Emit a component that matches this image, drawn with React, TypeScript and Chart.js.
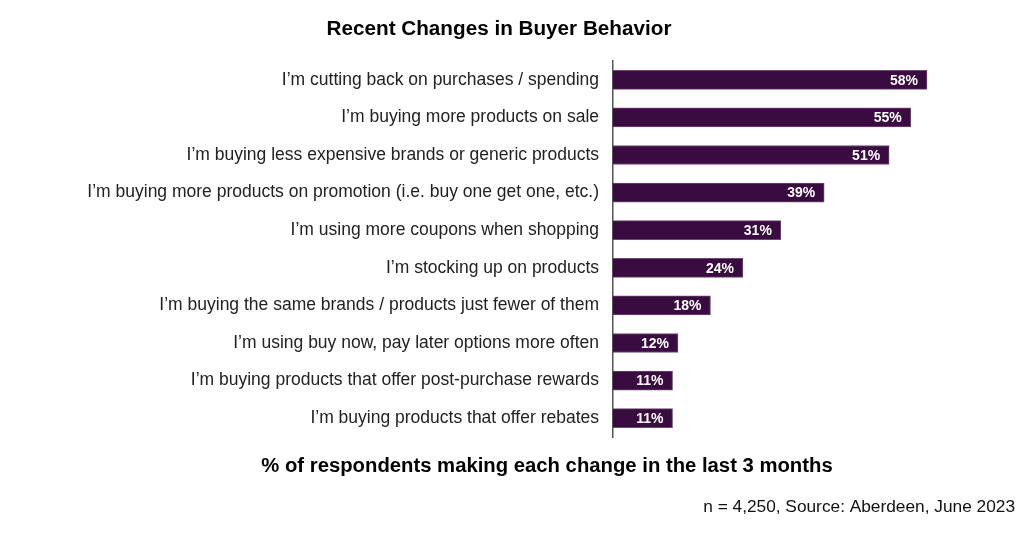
import React, { useEffect, useRef } from "react";
import { Chart, registerables } from "chart.js";

Chart.register(...registerables);

const categories: string[] = [
  "I’m cutting back on purchases / spending",
  "I’m buying more products on sale",
  "I’m buying less expensive brands or generic products",
  "I’m buying more products on promotion (i.e. buy one get one, etc.)",
  "I’m using more coupons when shopping",
  "I’m stocking up on products",
  "I’m buying the same brands / products just fewer of them",
  "I’m using buy now, pay later options more often",
  "I’m buying products that offer post-purchase rewards",
  "I’m buying products that offer rebates",
];
const values: number[] = [58, 55, 51, 39, 31, 24, 18, 12, 11, 11];

const chartTitle = "Recent Changes in Buyer Behavior";
const axisTitle = "% of respondents making each change in the last 3 months";
const footnote = "n = 4,250, Source: Aberdeen, June 2023";

const FONT = "'Liberation Sans', Arial, sans-serif";

export default function App() {
  const ref = useRef<HTMLCanvasElement | null>(null);

  useEffect(() => {
    if (!ref.current) return;
    const textPlugin = {
      id: "texts",
      afterDraw(chart: any) {
        const ctx = chart.ctx;
        ctx.save();
        ctx.fillStyle = "#000";
        ctx.textBaseline = "middle";
        ctx.textAlign = "center";
        ctx.font = `bold 20.7px ${FONT}`;
        ctx.fillText(chartTitle, 499, 29);
        ctx.font = `bold 20.3px ${FONT}`;
        ctx.fillText(axisTitle, 547, 466);
        ctx.textAlign = "right";
        ctx.font = `17.3px ${FONT}`;
        ctx.fillStyle = "#111";
        ctx.fillText(footnote, 1015, 507);

        // value labels
        const meta = chart.getDatasetMeta(0);
        ctx.font = `bold 14px ${FONT}`;
        ctx.fillStyle = "#fff";
        ctx.textAlign = "right";
        meta.data.forEach((bar: any, i: number) => {
          ctx.fillText(`${values[i]}%`, bar.x - 9, bar.y + 1);
        });
        ctx.restore();
      },
    };

    const chart = new Chart(ref.current, {
      type: "bar",
      data: {
        labels: categories,
        datasets: [
          {
            data: values,
            backgroundColor: "#3a0b40",
            borderColor: "#6e4a73",
            borderWidth: 1,
            barThickness: 19,
          },
        ],
      },
      options: {
        indexAxis: "y",
        responsive: false,
        animation: false,
        layout: { padding: { top: 61, bottom: 98, left: 0, right: 32 } },
        plugins: {
          legend: { display: false },
          tooltip: { enabled: false },
          title: { display: false },
        },
        scales: {
          x: {
            min: 0,
            max: 70,
            display: false,
          },
          y: {
            afterFit(scale: any) {
              scale.width = 613;
            },
            grid: { display: false, drawTicks: false },
            border: { display: true, color: "#555", width: 1.5 },
            ticks: {
              padding: 14,
              color: "#222",
              font: { family: FONT, size: 17.5 },
            },
          },
        },
      },
      plugins: [textPlugin],
    });
    return () => chart.destroy();
  }, []);

  return (
    <div style={{ position: "fixed", left: 0, top: 0, width: 1024, height: 535, background: "#fff" }}>
      <canvas ref={ref} width={1024} height={535} />
    </div>
  );
}
